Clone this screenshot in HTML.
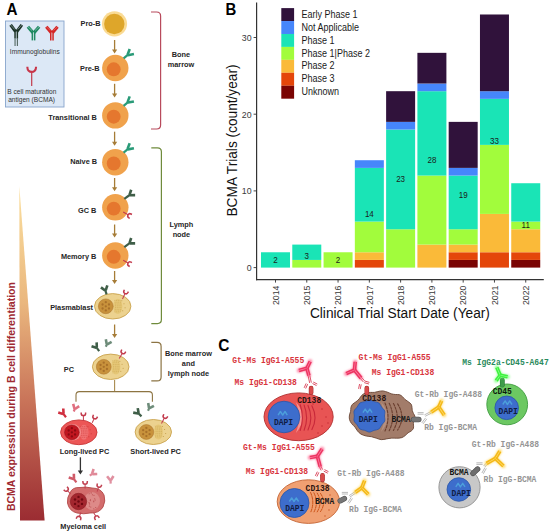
<!DOCTYPE html>
<html><head><meta charset="utf-8"><style>
html,body{margin:0;padding:0;background:#fff;}
svg{display:block;}
</style></head><body>
<svg width="550" height="532" viewBox="0 0 550 532">
<rect width="550" height="532" fill="#fff"/>
<rect x="261.00" y="252.26" width="29.0" height="15.34" fill="#1AE4B6"/>
<text x="275.50" y="262.83" textLength="4.45" lengthAdjust="spacingAndGlyphs" style="font-family:'Liberation Sans',sans-serif;font-size:8.96px;font-weight:normal" fill="#1a1a1a" text-anchor="middle" >2</text>
<line x1="275.50" y1="279.6" x2="275.50" y2="282.6" stroke="#333" stroke-width="0.9"/>
<text transform="translate(278.70,305) rotate(-90)" textLength="19.4" lengthAdjust="spacingAndGlyphs" style="font-family:'Liberation Sans',sans-serif;font-size:9.6px" fill="#3a3a3a">2014</text>
<rect x="292.28" y="259.93" width="29.0" height="7.67" fill="#A2FC3C"/>
<rect x="292.28" y="244.59" width="29.0" height="15.34" fill="#1AE4B6"/>
<text x="306.78" y="259.00" textLength="4.45" lengthAdjust="spacingAndGlyphs" style="font-family:'Liberation Sans',sans-serif;font-size:8.96px;font-weight:normal" fill="#1a1a1a" text-anchor="middle" >3</text>
<line x1="306.78" y1="279.6" x2="306.78" y2="282.6" stroke="#333" stroke-width="0.9"/>
<text transform="translate(309.98,305) rotate(-90)" textLength="19.4" lengthAdjust="spacingAndGlyphs" style="font-family:'Liberation Sans',sans-serif;font-size:9.6px" fill="#3a3a3a">2015</text>
<rect x="323.56" y="252.26" width="29.0" height="15.34" fill="#A2FC3C"/>
<text x="338.06" y="262.83" textLength="4.45" lengthAdjust="spacingAndGlyphs" style="font-family:'Liberation Sans',sans-serif;font-size:8.96px;font-weight:normal" fill="#1a1a1a" text-anchor="middle" >2</text>
<line x1="338.06" y1="279.6" x2="338.06" y2="282.6" stroke="#333" stroke-width="0.9"/>
<text transform="translate(341.26,305) rotate(-90)" textLength="19.4" lengthAdjust="spacingAndGlyphs" style="font-family:'Liberation Sans',sans-serif;font-size:9.6px" fill="#3a3a3a">2016</text>
<rect x="354.84" y="259.93" width="29.0" height="7.67" fill="#E4460A"/>
<rect x="354.84" y="252.26" width="29.0" height="7.67" fill="#FABA39"/>
<rect x="354.84" y="221.58" width="29.0" height="30.68" fill="#A2FC3C"/>
<rect x="354.84" y="167.89" width="29.0" height="53.69" fill="#1AE4B6"/>
<rect x="354.84" y="160.22" width="29.0" height="7.67" fill="#4686FB"/>
<text x="369.34" y="216.81" textLength="8.90" lengthAdjust="spacingAndGlyphs" style="font-family:'Liberation Sans',sans-serif;font-size:8.96px;font-weight:normal" fill="#1a1a1a" text-anchor="middle" >14</text>
<line x1="369.34" y1="279.6" x2="369.34" y2="282.6" stroke="#333" stroke-width="0.9"/>
<text transform="translate(372.54,305) rotate(-90)" textLength="19.4" lengthAdjust="spacingAndGlyphs" style="font-family:'Liberation Sans',sans-serif;font-size:9.6px" fill="#3a3a3a">2017</text>
<rect x="386.12" y="229.25" width="29.0" height="38.35" fill="#A2FC3C"/>
<rect x="386.12" y="129.54" width="29.0" height="99.71" fill="#1AE4B6"/>
<rect x="386.12" y="121.87" width="29.0" height="7.67" fill="#4686FB"/>
<rect x="386.12" y="91.19" width="29.0" height="30.68" fill="#30123B"/>
<text x="400.62" y="182.30" textLength="8.90" lengthAdjust="spacingAndGlyphs" style="font-family:'Liberation Sans',sans-serif;font-size:8.96px;font-weight:normal" fill="#1a1a1a" text-anchor="middle" >23</text>
<line x1="400.62" y1="279.6" x2="400.62" y2="282.6" stroke="#333" stroke-width="0.9"/>
<text transform="translate(403.82,305) rotate(-90)" textLength="19.4" lengthAdjust="spacingAndGlyphs" style="font-family:'Liberation Sans',sans-serif;font-size:9.6px" fill="#3a3a3a">2018</text>
<rect x="417.40" y="244.59" width="29.0" height="23.01" fill="#FABA39"/>
<rect x="417.40" y="175.56" width="29.0" height="69.03" fill="#A2FC3C"/>
<rect x="417.40" y="91.19" width="29.0" height="84.37" fill="#1AE4B6"/>
<rect x="417.40" y="83.52" width="29.0" height="7.67" fill="#4686FB"/>
<rect x="417.40" y="52.84" width="29.0" height="30.68" fill="#30123B"/>
<text x="431.90" y="163.12" textLength="8.90" lengthAdjust="spacingAndGlyphs" style="font-family:'Liberation Sans',sans-serif;font-size:8.96px;font-weight:normal" fill="#1a1a1a" text-anchor="middle" >28</text>
<line x1="431.90" y1="279.6" x2="431.90" y2="282.6" stroke="#333" stroke-width="0.9"/>
<text transform="translate(435.10,305) rotate(-90)" textLength="19.4" lengthAdjust="spacingAndGlyphs" style="font-family:'Liberation Sans',sans-serif;font-size:9.6px" fill="#3a3a3a">2019</text>
<rect x="448.68" y="259.93" width="29.0" height="7.67" fill="#7A0403"/>
<rect x="448.68" y="252.26" width="29.0" height="7.67" fill="#E4460A"/>
<rect x="448.68" y="244.59" width="29.0" height="7.67" fill="#FABA39"/>
<rect x="448.68" y="229.25" width="29.0" height="15.34" fill="#A2FC3C"/>
<rect x="448.68" y="175.56" width="29.0" height="53.69" fill="#1AE4B6"/>
<rect x="448.68" y="167.89" width="29.0" height="7.67" fill="#4686FB"/>
<rect x="448.68" y="121.87" width="29.0" height="46.02" fill="#30123B"/>
<text x="463.18" y="197.64" textLength="8.90" lengthAdjust="spacingAndGlyphs" style="font-family:'Liberation Sans',sans-serif;font-size:8.96px;font-weight:normal" fill="#1a1a1a" text-anchor="middle" >19</text>
<line x1="463.18" y1="279.6" x2="463.18" y2="282.6" stroke="#333" stroke-width="0.9"/>
<text transform="translate(466.38,305) rotate(-90)" textLength="19.4" lengthAdjust="spacingAndGlyphs" style="font-family:'Liberation Sans',sans-serif;font-size:9.6px" fill="#3a3a3a">2020</text>
<rect x="479.96" y="252.26" width="29.0" height="15.34" fill="#E4460A"/>
<rect x="479.96" y="213.91" width="29.0" height="38.35" fill="#FABA39"/>
<rect x="479.96" y="144.88" width="29.0" height="69.03" fill="#A2FC3C"/>
<rect x="479.96" y="98.86" width="29.0" height="46.02" fill="#1AE4B6"/>
<rect x="479.96" y="91.19" width="29.0" height="7.67" fill="#4686FB"/>
<rect x="479.96" y="14.49" width="29.0" height="76.70" fill="#30123B"/>
<text x="494.46" y="143.95" textLength="8.90" lengthAdjust="spacingAndGlyphs" style="font-family:'Liberation Sans',sans-serif;font-size:8.96px;font-weight:normal" fill="#1a1a1a" text-anchor="middle" >33</text>
<line x1="494.46" y1="279.6" x2="494.46" y2="282.6" stroke="#333" stroke-width="0.9"/>
<text transform="translate(497.66,305) rotate(-90)" textLength="19.4" lengthAdjust="spacingAndGlyphs" style="font-family:'Liberation Sans',sans-serif;font-size:9.6px" fill="#3a3a3a">2021</text>
<rect x="511.24" y="259.93" width="29.0" height="7.67" fill="#7A0403"/>
<rect x="511.24" y="252.26" width="29.0" height="7.67" fill="#E4460A"/>
<rect x="511.24" y="229.25" width="29.0" height="23.01" fill="#FABA39"/>
<rect x="511.24" y="221.58" width="29.0" height="7.67" fill="#A2FC3C"/>
<rect x="511.24" y="183.23" width="29.0" height="38.35" fill="#1AE4B6"/>
<text x="525.74" y="228.32" textLength="8.30" lengthAdjust="spacingAndGlyphs" style="font-family:'Liberation Sans',sans-serif;font-size:8.96px;font-weight:normal" fill="#1a1a1a" text-anchor="middle" >11</text>
<line x1="525.74" y1="279.6" x2="525.74" y2="282.6" stroke="#333" stroke-width="0.9"/>
<text transform="translate(528.94,305) rotate(-90)" textLength="19.4" lengthAdjust="spacingAndGlyphs" style="font-family:'Liberation Sans',sans-serif;font-size:9.6px" fill="#3a3a3a">2022</text>
<line x1="256.6" y1="2.5" x2="256.6" y2="280.2" stroke="#333" stroke-width="1.2"/>
<line x1="256" y1="279.6" x2="543.8" y2="279.6" stroke="#333" stroke-width="1.2"/>
<line x1="253.6" y1="267.60" x2="256.5" y2="267.60" stroke="#333" stroke-width="0.9"/>
<text x="251.6" y="270.90" textLength="4.89" lengthAdjust="spacingAndGlyphs" style="font-family:'Liberation Sans',sans-serif;font-size:9.86px;font-weight:normal" fill="#3a3a3a" text-anchor="end" >0</text>
<line x1="253.6" y1="190.90" x2="256.5" y2="190.90" stroke="#333" stroke-width="0.9"/>
<text x="251.6" y="194.20" textLength="9.79" lengthAdjust="spacingAndGlyphs" style="font-family:'Liberation Sans',sans-serif;font-size:9.86px;font-weight:normal" fill="#3a3a3a" text-anchor="end" >10</text>
<line x1="253.6" y1="114.20" x2="256.5" y2="114.20" stroke="#333" stroke-width="0.9"/>
<text x="251.6" y="117.50" textLength="9.79" lengthAdjust="spacingAndGlyphs" style="font-family:'Liberation Sans',sans-serif;font-size:9.86px;font-weight:normal" fill="#3a3a3a" text-anchor="end" >20</text>
<line x1="253.6" y1="37.50" x2="256.5" y2="37.50" stroke="#333" stroke-width="0.9"/>
<text x="251.6" y="40.80" textLength="9.79" lengthAdjust="spacingAndGlyphs" style="font-family:'Liberation Sans',sans-serif;font-size:9.86px;font-weight:normal" fill="#3a3a3a" text-anchor="end" >30</text>
<text x="399.9" y="318" textLength="180.00" lengthAdjust="spacingAndGlyphs" style="font-family:'Liberation Sans',sans-serif;font-size:15.07px;font-weight:normal" fill="#111" text-anchor="middle" >Clinical Trial Start Date (Year)</text>
<text transform="translate(236.5,140.5) rotate(-90)" text-anchor="middle" textLength="152" lengthAdjust="spacingAndGlyphs" style="font-family:'Liberation Sans',sans-serif;font-size:15px" fill="#111">BCMA Trials (count/year)</text>
<rect x="281.3" y="8.10" width="12.8" height="12.94" fill="#30123B"/>
<text x="301.6" y="17.70" textLength="56.03" lengthAdjust="spacingAndGlyphs" style="font-family:'Liberation Sans',sans-serif;font-size:10.17px;font-weight:normal" fill="#1a1a1a" text-anchor="start" >Early Phase 1</text>
<rect x="281.3" y="21.04" width="12.8" height="12.94" fill="#4686FB"/>
<text x="301.6" y="30.64" textLength="57.54" lengthAdjust="spacingAndGlyphs" style="font-family:'Liberation Sans',sans-serif;font-size:10.17px;font-weight:normal" fill="#1a1a1a" text-anchor="start" >Not Applicable</text>
<rect x="281.3" y="33.98" width="12.8" height="12.94" fill="#1AE4B6"/>
<text x="301.6" y="43.58" textLength="33.02" lengthAdjust="spacingAndGlyphs" style="font-family:'Liberation Sans',sans-serif;font-size:10.17px;font-weight:normal" fill="#1a1a1a" text-anchor="start" >Phase 1</text>
<rect x="281.3" y="46.92" width="12.8" height="12.94" fill="#A2FC3C"/>
<text x="301.6" y="56.52" textLength="68.38" lengthAdjust="spacingAndGlyphs" style="font-family:'Liberation Sans',sans-serif;font-size:10.17px;font-weight:normal" fill="#1a1a1a" text-anchor="start" >Phase 1|Phase 2</text>
<rect x="281.3" y="59.86" width="12.8" height="12.94" fill="#FABA39"/>
<text x="301.6" y="69.46" textLength="33.02" lengthAdjust="spacingAndGlyphs" style="font-family:'Liberation Sans',sans-serif;font-size:10.17px;font-weight:normal" fill="#1a1a1a" text-anchor="start" >Phase 2</text>
<rect x="281.3" y="72.80" width="12.8" height="12.94" fill="#E4460A"/>
<text x="301.6" y="82.40" textLength="33.02" lengthAdjust="spacingAndGlyphs" style="font-family:'Liberation Sans',sans-serif;font-size:10.17px;font-weight:normal" fill="#1a1a1a" text-anchor="start" >Phase 3</text>
<rect x="281.3" y="85.74" width="12.8" height="12.94" fill="#7A0403"/>
<text x="301.6" y="95.34" textLength="37.52" lengthAdjust="spacingAndGlyphs" style="font-family:'Liberation Sans',sans-serif;font-size:10.17px;font-weight:normal" fill="#1a1a1a" text-anchor="start" >Unknown</text>
<text x="225.4" y="15.0" textLength="10.80" lengthAdjust="spacingAndGlyphs" style="font-family:'Liberation Sans',sans-serif;font-size:16.10px;font-weight:bold" fill="#000" text-anchor="start" >B</text>
<text x="6.5" y="14.8" textLength="11.00" lengthAdjust="spacingAndGlyphs" style="font-family:'Liberation Sans',sans-serif;font-size:16.10px;font-weight:bold" fill="#000" text-anchor="start" >A</text>
<rect x="5.5" y="21" width="58.5" height="86" fill="#dce8f6" stroke="#87a5cc" stroke-width="0.9"/>
<line x1="15.60" y1="31.60" x2="10.60" y2="24.90" stroke="#1c3326" stroke-width="3.2"/><line x1="16.80" y1="31.60" x2="21.80" y2="24.90" stroke="#1c3326" stroke-width="3.2"/><line x1="15.05" y1="29.80" x2="15.05" y2="38.60" stroke="#1c3326" stroke-width="1.5"/><line x1="17.35" y1="29.80" x2="17.35" y2="38.60" stroke="#1c3326" stroke-width="1.5"/><line x1="14.60" y1="29.40" x2="10.60" y2="24.90" stroke="#dce8f6" stroke-width="0.55" opacity="0.8"/><line x1="17.80" y1="29.40" x2="21.80" y2="24.90" stroke="#dce8f6" stroke-width="0.55" opacity="0.8"/><line x1="15.05" y1="38.60" x2="15.05" y2="46.00" stroke="#1c3326" stroke-width="0.8"/><line x1="17.35" y1="38.60" x2="17.35" y2="46.00" stroke="#1c3326" stroke-width="0.8"/>
<line x1="32.90" y1="32.60" x2="27.90" y2="26.80" stroke="#1f8a62" stroke-width="3.2"/><line x1="34.10" y1="32.60" x2="39.10" y2="26.80" stroke="#1f8a62" stroke-width="3.2"/><line x1="32.35" y1="30.80" x2="32.35" y2="40.40" stroke="#1f8a62" stroke-width="1.5"/><line x1="34.65" y1="30.80" x2="34.65" y2="40.40" stroke="#1f8a62" stroke-width="1.5"/><line x1="31.90" y1="30.40" x2="27.90" y2="26.80" stroke="#dce8f6" stroke-width="0.55" opacity="0.8"/><line x1="35.10" y1="30.40" x2="39.10" y2="26.80" stroke="#dce8f6" stroke-width="0.55" opacity="0.8"/>
<line x1="51.30" y1="32.60" x2="46.30" y2="26.80" stroke="#d42626" stroke-width="3.2"/><line x1="52.50" y1="32.60" x2="57.50" y2="26.80" stroke="#d42626" stroke-width="3.2"/><line x1="50.75" y1="30.80" x2="50.75" y2="40.40" stroke="#d42626" stroke-width="1.5"/><line x1="53.05" y1="30.80" x2="53.05" y2="40.40" stroke="#d42626" stroke-width="1.5"/><line x1="50.30" y1="30.40" x2="46.30" y2="26.80" stroke="#f0a0a0" stroke-width="0.55" opacity="0.8"/><line x1="53.50" y1="30.40" x2="57.50" y2="26.80" stroke="#f0a0a0" stroke-width="0.55" opacity="0.8"/>
<text x="34.8" y="54.2" style="font-family:'Liberation Sans',sans-serif;font-size:6.6px;font-weight:normal" fill="#333" text-anchor="middle" >Immunoglobulins</text>
<path d="M27.4,66.8 L27.4,67.6 A4.3,4.3 0 0 0 36.0,67.6 L36.0,66.8" fill="none" stroke="#c8364a" stroke-width="2.1"/>
<line x1="31.7" y1="72.5" x2="31.7" y2="86" stroke="#c23a4c" stroke-width="1.2"/>
<text x="31.8" y="93.6" style="font-family:'Liberation Sans',sans-serif;font-size:6.6px;font-weight:normal" fill="#333" text-anchor="middle" >B cell maturation</text>
<text x="31.6" y="102.2" style="font-family:'Liberation Sans',sans-serif;font-size:6.6px;font-weight:normal" fill="#333" text-anchor="middle" >antigen (BCMA)</text>
<circle cx="114.5" cy="23.8" r="12.6" fill="#fadb94"/>
<circle cx="114.3" cy="24" r="10.2" fill="#dea62a"/>
<text x="100.5" y="25.8" style="font-family:'Liberation Sans',sans-serif;font-size:7.35px;font-weight:bold" fill="#262626" text-anchor="end" >Pro-B</text>
<line x1="114.6" y1="40" x2="114.6" y2="50.5" stroke="#a67c37" stroke-width="1.3"/>
<path d="M112.0,49.5 L117.19999999999999,49.5 L114.6,53.5 Z" fill="#a67c37"/>
<line x1="114.6" y1="83.8" x2="114.6" y2="94.6" stroke="#a67c37" stroke-width="1.3"/>
<path d="M112.0,93.6 L117.19999999999999,93.6 L114.6,97.6 Z" fill="#a67c37"/>
<line x1="114.6" y1="131.7" x2="114.6" y2="142.8" stroke="#a67c37" stroke-width="1.3"/>
<path d="M112.0,141.8 L117.19999999999999,141.8 L114.6,145.8 Z" fill="#a67c37"/>
<line x1="114.6" y1="178" x2="114.6" y2="188.2" stroke="#a67c37" stroke-width="1.3"/>
<path d="M112.0,187.2 L117.19999999999999,187.2 L114.6,191.2 Z" fill="#a67c37"/>
<line x1="114.6" y1="224.5" x2="114.6" y2="234.5" stroke="#a67c37" stroke-width="1.3"/>
<path d="M112.0,233.5 L117.19999999999999,233.5 L114.6,237.5 Z" fill="#a67c37"/>
<line x1="114.6" y1="271" x2="114.6" y2="281" stroke="#a67c37" stroke-width="1.3"/>
<path d="M112.0,280 L117.19999999999999,280 L114.6,284 Z" fill="#a67c37"/>
<line x1="114.6" y1="324.5" x2="114.6" y2="335" stroke="#a67c37" stroke-width="1.3"/>
<path d="M112.0,334 L117.19999999999999,334 L114.6,338 Z" fill="#a67c37"/>
<circle cx="115.3" cy="68" r="13.2" fill="#f0a24c"/>
<circle cx="113.7" cy="69.3" r="6.95" fill="#e5772e"/>
<g transform="translate(123.6,58.4) rotate(50) scale(1.0)"><line x1="0" y1="0" x2="0" y2="-6.2" stroke="#2a9b78" stroke-width="2.2"/><line x1="-0.3" y1="-5.4" x2="-3.29" y2="-10.73" stroke="#2a9b78" stroke-width="2.6"/><line x1="0.3" y1="-5.4" x2="3.29" y2="-10.73" stroke="#2a9b78" stroke-width="2.6"/></g>
<text x="99.6" y="70.6" style="font-family:'Liberation Sans',sans-serif;font-size:7.35px;font-weight:bold" fill="#262626" text-anchor="end" >Pre-B</text>
<circle cx="115.3" cy="115.4" r="13.2" fill="#f0a24c"/>
<circle cx="113.7" cy="116.7" r="6.95" fill="#e5772e"/>
<g transform="translate(123.6,105.80000000000001) rotate(50) scale(1.0)"><line x1="0" y1="0" x2="0" y2="-6.2" stroke="#2a9b78" stroke-width="2.2"/><line x1="-0.3" y1="-5.4" x2="-3.29" y2="-10.73" stroke="#2a9b78" stroke-width="2.6"/><line x1="0.3" y1="-5.4" x2="3.29" y2="-10.73" stroke="#2a9b78" stroke-width="2.6"/></g>
<text x="96.9" y="119.7" style="font-family:'Liberation Sans',sans-serif;font-size:7.35px;font-weight:bold" fill="#262626" text-anchor="end" >Transitional B</text>
<circle cx="115.3" cy="162.2" r="13.2" fill="#f0a24c"/>
<circle cx="113.7" cy="163.5" r="6.95" fill="#e5772e"/>
<g transform="translate(123.6,152.6) rotate(50) scale(1.0)"><line x1="0" y1="0" x2="0" y2="-6.2" stroke="#2a9b78" stroke-width="2.2"/><line x1="-0.3" y1="-5.4" x2="-3.29" y2="-10.73" stroke="#2a9b78" stroke-width="2.6"/><line x1="0.3" y1="-5.4" x2="3.29" y2="-10.73" stroke="#2a9b78" stroke-width="2.6"/></g>
<text x="97.1" y="164.2" style="font-family:'Liberation Sans',sans-serif;font-size:7.35px;font-weight:bold" fill="#262626" text-anchor="end" >Naive B</text>
<circle cx="115.3" cy="207.3" r="13.2" fill="#f0a24c"/>
<circle cx="113.7" cy="208.60000000000002" r="6.95" fill="#e5772e"/>
<g transform="translate(124.3,198.9) rotate(54) scale(1.0)"><line x1="0" y1="0" x2="0" y2="-7.5" stroke="#3f5e48" stroke-width="2.2"/><line x1="-0.3" y1="-6.7" x2="-3.33" y2="-10.95" stroke="#3f5e48" stroke-width="2.6"/><line x1="0.3" y1="-6.7" x2="3.33" y2="-10.95" stroke="#3f5e48" stroke-width="2.6"/></g>
<g transform="translate(123.2,212.0) rotate(120) scale(1.0)"><line x1="0" y1="0" x2="0" y2="-5.6" stroke="#c23a4c" stroke-width="1.0"/><path d="M-2.2,-8.8 L-2.2,-7.8 A2.2,2.2 0 0 0 2.2,-7.8 L2.2,-8.8" fill="none" stroke="#c23a4c" stroke-width="1.5"/></g>
<text x="96.4" y="212.5" style="font-family:'Liberation Sans',sans-serif;font-size:7.35px;font-weight:bold" fill="#262626" text-anchor="end" >GC B</text>
<circle cx="115.3" cy="255.5" r="13.2" fill="#f0a24c"/>
<circle cx="113.7" cy="256.8" r="6.95" fill="#e5772e"/>
<g transform="translate(124.3,247.1) rotate(54) scale(1.0)"><line x1="0" y1="0" x2="0" y2="-7.5" stroke="#3f5e48" stroke-width="2.2"/><line x1="-0.3" y1="-6.7" x2="-3.33" y2="-10.95" stroke="#3f5e48" stroke-width="2.6"/><line x1="0.3" y1="-6.7" x2="3.33" y2="-10.95" stroke="#3f5e48" stroke-width="2.6"/></g>
<g transform="translate(123.2,260.2) rotate(120) scale(1.0)"><line x1="0" y1="0" x2="0" y2="-5.6" stroke="#c23a4c" stroke-width="1.0"/><path d="M-2.2,-8.8 L-2.2,-7.8 A2.2,2.2 0 0 0 2.2,-7.8 L2.2,-8.8" fill="none" stroke="#c23a4c" stroke-width="1.5"/></g>
<text x="96.4" y="259.3" style="font-family:'Liberation Sans',sans-serif;font-size:7.35px;font-weight:bold" fill="#262626" text-anchor="end" >Memory B</text>
<ellipse cx="112.7" cy="306.3" rx="18.2" ry="12.7" fill="#ecd28f" stroke="#c9a34e" stroke-width="0.9"/>
<ellipse cx="117.80" cy="306.3" rx="4.55" ry="7.62" fill="#e6c878"/>
<path d="M114.60,299.95 Q116.40,306.30 114.60,312.65" fill="none" stroke="#c39c48" stroke-width="0.6" stroke-dasharray="1 0.8" opacity="0.9"/><path d="M116.40,299.95 Q118.20,306.30 116.40,312.65" fill="none" stroke="#c39c48" stroke-width="0.6" stroke-dasharray="1 0.8" opacity="0.9"/><path d="M118.20,299.95 Q120.00,306.30 118.20,312.65" fill="none" stroke="#c39c48" stroke-width="0.6" stroke-dasharray="1 0.8" opacity="0.9"/><path d="M120.00,299.95 Q121.80,306.30 120.00,312.65" fill="none" stroke="#c39c48" stroke-width="0.6" stroke-dasharray="1 0.8" opacity="0.9"/><circle cx="123.98" cy="303.80" r="0.55" fill="#c39c48"/><circle cx="125.08" cy="307.80" r="0.55" fill="#c39c48"/><circle cx="122.71" cy="310.80" r="0.55" fill="#c39c48"/><circle cx="121.80" cy="300.80" r="0.55" fill="#c39c48"/>
<circle cx="105.78" cy="306.3" r="7.4" fill="#c8923c" stroke="#a8702a" stroke-width="0.5"/>
<circle cx="105.78" cy="306.30" r="1.15" fill="#a8702a"/>
<circle cx="102.58" cy="304.50" r="1.15" fill="#a8702a"/>
<circle cx="108.98" cy="304.50" r="1.15" fill="#a8702a"/>
<circle cx="102.58" cy="308.50" r="1.15" fill="#a8702a"/>
<circle cx="108.98" cy="308.50" r="1.15" fill="#a8702a"/>
<circle cx="105.78" cy="302.20" r="1.15" fill="#a8702a"/>
<circle cx="105.78" cy="310.40" r="1.15" fill="#a8702a"/>
<g transform="translate(106.6,294.4) rotate(-17) scale(1.0)"><line x1="0" y1="0" x2="0" y2="-4.9" stroke="#3f5e48" stroke-width="2.2"/><line x1="-0.3" y1="-4.1000000000000005" x2="-3.33" y2="-8.35" stroke="#3f5e48" stroke-width="2.6"/><line x1="0.3" y1="-4.1000000000000005" x2="3.33" y2="-8.35" stroke="#3f5e48" stroke-width="2.6"/></g>
<g transform="translate(122.5,299) rotate(25) scale(1.0)"><line x1="0" y1="0" x2="0" y2="-6" stroke="#c23a4c" stroke-width="1.0"/><path d="M-2.2,-9.2 L-2.2,-8.2 A2.2,2.2 0 0 0 2.2,-8.2 L2.2,-9.2" fill="none" stroke="#c23a4c" stroke-width="1.5"/></g>
<text x="93" y="309.8" style="font-family:'Liberation Sans',sans-serif;font-size:7.35px;font-weight:bold" fill="#262626" text-anchor="end" >Plasmablast</text>
<ellipse cx="110.7" cy="366.8" rx="18.3" ry="12.7" fill="#ecd28f" stroke="#c9a34e" stroke-width="0.9"/>
<ellipse cx="115.82" cy="366.8" rx="4.58" ry="7.62" fill="#e6c878"/>
<path d="M112.62,360.45 Q114.42,366.80 112.62,373.15" fill="none" stroke="#c39c48" stroke-width="0.6" stroke-dasharray="1 0.8" opacity="0.9"/><path d="M114.42,360.45 Q116.22,366.80 114.42,373.15" fill="none" stroke="#c39c48" stroke-width="0.6" stroke-dasharray="1 0.8" opacity="0.9"/><path d="M116.22,360.45 Q118.02,366.80 116.22,373.15" fill="none" stroke="#c39c48" stroke-width="0.6" stroke-dasharray="1 0.8" opacity="0.9"/><path d="M118.02,360.45 Q119.82,366.80 118.02,373.15" fill="none" stroke="#c39c48" stroke-width="0.6" stroke-dasharray="1 0.8" opacity="0.9"/><circle cx="122.05" cy="364.30" r="0.55" fill="#c39c48"/><circle cx="123.14" cy="368.30" r="0.55" fill="#c39c48"/><circle cx="120.77" cy="371.30" r="0.55" fill="#c39c48"/><circle cx="119.85" cy="361.30" r="0.55" fill="#c39c48"/>
<circle cx="103.75" cy="366.8" r="7.4" fill="#c8923c" stroke="#a8702a" stroke-width="0.5"/>
<circle cx="103.75" cy="366.80" r="1.15" fill="#a8702a"/>
<circle cx="100.55" cy="365.00" r="1.15" fill="#a8702a"/>
<circle cx="106.95" cy="365.00" r="1.15" fill="#a8702a"/>
<circle cx="100.55" cy="369.00" r="1.15" fill="#a8702a"/>
<circle cx="106.95" cy="369.00" r="1.15" fill="#a8702a"/>
<circle cx="103.75" cy="362.70" r="1.15" fill="#a8702a"/>
<circle cx="103.75" cy="370.90" r="1.15" fill="#a8702a"/>
<g transform="translate(99.2,351.1) rotate(-37) scale(1.0)"><line x1="0" y1="0" x2="0" y2="-5.2" stroke="#3f5e48" stroke-width="2.2"/><line x1="-0.3" y1="-4.4" x2="-3.20" y2="-8.51" stroke="#3f5e48" stroke-width="2.6"/><line x1="0.3" y1="-4.4" x2="3.20" y2="-8.51" stroke="#3f5e48" stroke-width="2.6"/></g>
<g transform="translate(105.8,346.8) rotate(25) scale(1.0)"><line x1="0" y1="0" x2="0" y2="-3.6" stroke="#6e8c7a" stroke-width="2.2"/><line x1="-0.3" y1="-2.8" x2="-3.20" y2="-6.91" stroke="#6e8c7a" stroke-width="2.6"/><line x1="0.3" y1="-2.8" x2="3.20" y2="-6.91" stroke="#6e8c7a" stroke-width="2.6"/></g>
<g transform="translate(119.2,358.6) rotate(30) scale(1.0)"><line x1="0" y1="0" x2="0" y2="-6" stroke="#c23a4c" stroke-width="1.0"/><path d="M-2.2,-9.2 L-2.2,-8.2 A2.2,2.2 0 0 0 2.2,-8.2 L2.2,-9.2" fill="none" stroke="#c23a4c" stroke-width="1.5"/></g>
<text x="68.9" y="371.6" style="font-family:'Liberation Sans',sans-serif;font-size:7.35px;font-weight:bold" fill="#262626" text-anchor="middle" >PC</text>
<path d="M114.6,380 L114.6,391.6" stroke="#a88a4e" stroke-width="1.1" fill="none"/>
<path d="M76,401.8 L76,395 Q76,391.6 79.4,391.6 L149,391.6 Q152.4,391.6 152.4,395 L152.4,401.8" stroke="#8d7442" stroke-width="1.1" fill="none"/>
<ellipse cx="78.8" cy="432.3" rx="18.2" ry="12.4" fill="#ec5656" stroke="#c83838" stroke-width="0.9"/>
<ellipse cx="83.90" cy="432.3" rx="4.55" ry="7.44" fill="#f27272"/>
<path d="M80.70,426.10 Q82.50,432.30 80.70,438.50" fill="none" stroke="#c83838" stroke-width="0.6" stroke-dasharray="1 0.8" opacity="0.9"/><path d="M82.50,426.10 Q84.30,432.30 82.50,438.50" fill="none" stroke="#c83838" stroke-width="0.6" stroke-dasharray="1 0.8" opacity="0.9"/><path d="M84.30,426.10 Q86.10,432.30 84.30,438.50" fill="none" stroke="#c83838" stroke-width="0.6" stroke-dasharray="1 0.8" opacity="0.9"/><path d="M86.10,426.10 Q87.90,432.30 86.10,438.50" fill="none" stroke="#c83838" stroke-width="0.6" stroke-dasharray="1 0.8" opacity="0.9"/><circle cx="90.08" cy="429.80" r="0.55" fill="#c83838"/><circle cx="91.18" cy="433.80" r="0.55" fill="#c83838"/><circle cx="88.81" cy="436.80" r="0.55" fill="#c83838"/><circle cx="87.90" cy="426.80" r="0.55" fill="#c83838"/>
<circle cx="72.68" cy="432.3" r="8.3" fill="#f48a8a"/>
<circle cx="71.88" cy="432.3" r="7.4" fill="#c0161f" stroke="#8c0a12" stroke-width="0.5"/>
<circle cx="71.88" cy="432.30" r="1.15" fill="#8c0a12"/>
<circle cx="68.68" cy="430.50" r="1.15" fill="#8c0a12"/>
<circle cx="75.08" cy="430.50" r="1.15" fill="#8c0a12"/>
<circle cx="68.68" cy="434.50" r="1.15" fill="#8c0a12"/>
<circle cx="75.08" cy="434.50" r="1.15" fill="#8c0a12"/>
<circle cx="71.88" cy="428.20" r="1.15" fill="#8c0a12"/>
<circle cx="71.88" cy="436.40" r="1.15" fill="#8c0a12"/>
<g transform="translate(66,417.2) rotate(-38) scale(1.0)"><line x1="0" y1="0" x2="0" y2="-5.2" stroke="#d03040" stroke-width="2.2"/><line x1="-0.3" y1="-4.4" x2="-3.20" y2="-8.51" stroke="#d03040" stroke-width="2.6"/><line x1="0.3" y1="-4.4" x2="3.20" y2="-8.51" stroke="#d03040" stroke-width="2.6"/></g>
<g transform="translate(73.8,411.5) rotate(20) scale(1.0)"><line x1="0" y1="0" x2="0" y2="-3.6" stroke="#e07080" stroke-width="2.2"/><line x1="-0.3" y1="-2.8" x2="-3.20" y2="-6.91" stroke="#e07080" stroke-width="2.6"/><line x1="0.3" y1="-2.8" x2="3.20" y2="-6.91" stroke="#e07080" stroke-width="2.6"/></g>
<g transform="translate(83.4,420.6) rotate(0) scale(1.0)"><line x1="0" y1="0" x2="0" y2="-5" stroke="#c23a4c" stroke-width="1.0"/><path d="M-2.2,-8.2 L-2.2,-7.2 A2.2,2.2 0 0 0 2.2,-7.2 L2.2,-8.2" fill="none" stroke="#c23a4c" stroke-width="1.5"/></g>
<g transform="translate(92.2,422.8) rotate(25) scale(1.0)"><line x1="0" y1="0" x2="0" y2="-4.6" stroke="#c23a4c" stroke-width="1.0"/><path d="M-2.2,-7.8 L-2.2,-6.8 A2.2,2.2 0 0 0 2.2,-6.8 L2.2,-7.8" fill="none" stroke="#c23a4c" stroke-width="1.5"/></g>
<text x="84.5" y="453.6" style="font-family:'Liberation Sans',sans-serif;font-size:7.35px;font-weight:bold" fill="#262626" text-anchor="middle" >Long-lived PC</text>
<ellipse cx="153.3" cy="432" rx="18.2" ry="12.5" fill="#ecd28f" stroke="#c9a34e" stroke-width="0.9"/>
<ellipse cx="158.40" cy="432" rx="4.55" ry="7.50" fill="#e6c878"/>
<path d="M155.20,425.75 Q157.00,432.00 155.20,438.25" fill="none" stroke="#c39c48" stroke-width="0.6" stroke-dasharray="1 0.8" opacity="0.9"/><path d="M157.00,425.75 Q158.80,432.00 157.00,438.25" fill="none" stroke="#c39c48" stroke-width="0.6" stroke-dasharray="1 0.8" opacity="0.9"/><path d="M158.80,425.75 Q160.60,432.00 158.80,438.25" fill="none" stroke="#c39c48" stroke-width="0.6" stroke-dasharray="1 0.8" opacity="0.9"/><path d="M160.60,425.75 Q162.40,432.00 160.60,438.25" fill="none" stroke="#c39c48" stroke-width="0.6" stroke-dasharray="1 0.8" opacity="0.9"/><circle cx="164.58" cy="429.50" r="0.55" fill="#c39c48"/><circle cx="165.68" cy="433.50" r="0.55" fill="#c39c48"/><circle cx="163.31" cy="436.50" r="0.55" fill="#c39c48"/><circle cx="162.40" cy="426.50" r="0.55" fill="#c39c48"/>
<circle cx="146.38" cy="432" r="7.4" fill="#c8923c" stroke="#a8702a" stroke-width="0.5"/>
<circle cx="146.38" cy="432.00" r="1.15" fill="#a8702a"/>
<circle cx="143.18" cy="430.20" r="1.15" fill="#a8702a"/>
<circle cx="149.58" cy="430.20" r="1.15" fill="#a8702a"/>
<circle cx="143.18" cy="434.20" r="1.15" fill="#a8702a"/>
<circle cx="149.58" cy="434.20" r="1.15" fill="#a8702a"/>
<circle cx="146.38" cy="427.90" r="1.15" fill="#a8702a"/>
<circle cx="146.38" cy="436.10" r="1.15" fill="#a8702a"/>
<g transform="translate(141.5,416.4) rotate(-45) scale(1.0)"><line x1="0" y1="0" x2="0" y2="-5.2" stroke="#3f5e48" stroke-width="2.2"/><line x1="-0.3" y1="-4.4" x2="-3.20" y2="-8.51" stroke="#3f5e48" stroke-width="2.6"/><line x1="0.3" y1="-4.4" x2="3.20" y2="-8.51" stroke="#3f5e48" stroke-width="2.6"/></g>
<g transform="translate(148,410.7) rotate(26) scale(1.0)"><line x1="0" y1="0" x2="0" y2="-3.7" stroke="#6e8c7a" stroke-width="2.2"/><line x1="-0.3" y1="-2.9000000000000004" x2="-3.20" y2="-7.01" stroke="#6e8c7a" stroke-width="2.6"/><line x1="0.3" y1="-2.9000000000000004" x2="3.20" y2="-7.01" stroke="#6e8c7a" stroke-width="2.6"/></g>
<g transform="translate(161.5,423.4) rotate(28) scale(1.0)"><line x1="0" y1="0" x2="0" y2="-6" stroke="#c23a4c" stroke-width="1.0"/><path d="M-2.2,-9.2 L-2.2,-8.2 A2.2,2.2 0 0 0 2.2,-8.2 L2.2,-9.2" fill="none" stroke="#c23a4c" stroke-width="1.5"/></g>
<text x="155.6" y="453.6" style="font-family:'Liberation Sans',sans-serif;font-size:7.35px;font-weight:bold" fill="#262626" text-anchor="middle" >Short-lived PC</text>
<line x1="80.4" y1="457.3" x2="80.4" y2="471.5" stroke="#333" stroke-width="1.3"/>
<path d="M77.80000000000001,470.5 L83.0,470.5 L80.4,474.5 Z" fill="#333"/>
<path d="M70,493 Q72,487 80,487.5 Q86,486.5 92,488 Q101,488 104,495 Q106,501 103,507 Q99,513.5 90,513 Q84,514.5 77,513 Q69,511 67.5,503 Q67,497 70,493 Z" fill="#d36c6c" stroke="#b24848" stroke-width="0.9"/>
<ellipse cx="92" cy="501" rx="8" ry="9" fill="#dd8a88"/>
<circle cx="93.80" cy="501.00" r="0.55" fill="#b84a4c"/>
<circle cx="89.61" cy="503.92" r="0.55" fill="#b84a4c"/>
<circle cx="92.41" cy="494.78" r="0.55" fill="#b84a4c"/>
<circle cx="95.73" cy="507.47" r="0.55" fill="#b84a4c"/>
<circle cx="90.23" cy="500.58" r="0.55" fill="#b84a4c"/>
<circle cx="94.73" cy="498.68" r="0.55" fill="#b84a4c"/>
<circle cx="90.79" cy="507.03" r="0.55" fill="#b84a4c"/>
<circle cx="89.17" cy="493.76" r="0.55" fill="#b84a4c"/>
<circle cx="93.69" cy="501.82" r="0.55" fill="#b84a4c"/>
<circle cx="89.01" cy="502.65" r="0.55" fill="#b84a4c"/>
<circle cx="93.98" cy="495.34" r="0.55" fill="#b84a4c"/>
<circle cx="93.84" cy="508.78" r="0.55" fill="#b84a4c"/>
<circle cx="90.44" cy="499.80" r="0.55" fill="#b84a4c"/>
<circle cx="95.16" cy="500.06" r="0.55" fill="#b84a4c"/>
<circle cx="89.32" cy="506.11" r="0.55" fill="#b84a4c"/>
<circle cx="91.20" cy="492.91" r="0.55" fill="#b84a4c"/>
<circle cx="78.5" cy="501.5" r="8.2" fill="#a3262e" stroke="#8a1a22" stroke-width="0.6"/>
<circle cx="78.50" cy="501.50" r="1.2" fill="#6e0a12"/>
<circle cx="75.00" cy="499.50" r="1.2" fill="#6e0a12"/>
<circle cx="82.00" cy="499.50" r="1.2" fill="#6e0a12"/>
<circle cx="75.00" cy="503.90" r="1.2" fill="#6e0a12"/>
<circle cx="82.00" cy="503.90" r="1.2" fill="#6e0a12"/>
<circle cx="78.50" cy="496.90" r="1.2" fill="#6e0a12"/>
<circle cx="78.50" cy="506.10" r="1.2" fill="#6e0a12"/>
<g transform="translate(70.6,494) rotate(-42) scale(1.0)"><line x1="0" y1="0" x2="0" y2="-4.6" stroke="#c04050" stroke-width="1.0"/><path d="M-2.2,-7.8 L-2.2,-6.8 A2.2,2.2 0 0 0 2.2,-6.8 L2.2,-7.8" fill="none" stroke="#c04050" stroke-width="1.5"/></g>
<g transform="translate(85.1,488.6) rotate(0) scale(1.0)"><line x1="0" y1="0" x2="0" y2="-4.4" stroke="#c04050" stroke-width="1.0"/><path d="M-2.2,-7.6000000000000005 L-2.2,-6.6000000000000005 A2.2,2.2 0 0 0 2.2,-6.6000000000000005 L2.2,-7.6000000000000005" fill="none" stroke="#c04050" stroke-width="1.5"/></g>
<g transform="translate(97.1,491.7) rotate(18) scale(1.0)"><line x1="0" y1="0" x2="0" y2="-4.8" stroke="#c04050" stroke-width="1.0"/><path d="M-2.2,-8.0 L-2.2,-7.0 A2.2,2.2 0 0 0 2.2,-7.0 L2.2,-8.0" fill="none" stroke="#c04050" stroke-width="1.5"/></g>
<g transform="translate(80.9,512.4) rotate(200) scale(1.0)"><line x1="0" y1="0" x2="0" y2="-4.4" stroke="#c04050" stroke-width="1.0"/><path d="M-2.2,-7.6000000000000005 L-2.2,-6.6000000000000005 A2.2,2.2 0 0 0 2.2,-6.6000000000000005 L2.2,-7.6000000000000005" fill="none" stroke="#c04050" stroke-width="1.5"/></g>
<g transform="translate(93.6,512.4) rotate(150) scale(1.0)"><line x1="0" y1="0" x2="0" y2="-4.4" stroke="#c04050" stroke-width="1.0"/><path d="M-2.2,-7.6000000000000005 L-2.2,-6.6000000000000005 A2.2,2.2 0 0 0 2.2,-6.6000000000000005 L2.2,-7.6000000000000005" fill="none" stroke="#c04050" stroke-width="1.5"/></g>
<g transform="translate(76.4,482.4) rotate(-37) scale(1.0)"><line x1="0" y1="0" x2="0" y2="-5.2" stroke="#d05a68" stroke-width="2.2"/><line x1="-0.3" y1="-4.4" x2="-3.20" y2="-8.51" stroke="#d05a68" stroke-width="2.6"/><line x1="0.3" y1="-4.4" x2="3.20" y2="-8.51" stroke="#d05a68" stroke-width="2.6"/></g>
<g transform="translate(89.8,475.6) rotate(54) scale(1.0)"><line x1="0" y1="0" x2="0" y2="-3.8" stroke="#e08a98" stroke-width="2.2"/><line x1="-0.3" y1="-3.0" x2="-3.06" y2="-6.97" stroke="#e08a98" stroke-width="2.6"/><line x1="0.3" y1="-3.0" x2="3.06" y2="-6.97" stroke="#e08a98" stroke-width="2.6"/></g>
<g transform="translate(110.7,483.6) rotate(-3) scale(1.0)"><line x1="0" y1="0" x2="0" y2="-4.2" stroke="#e090a0" stroke-width="2.2"/><line x1="-0.3" y1="-3.4000000000000004" x2="-3.20" y2="-7.51" stroke="#e090a0" stroke-width="2.6"/><line x1="0.3" y1="-3.4000000000000004" x2="3.20" y2="-7.51" stroke="#e090a0" stroke-width="2.6"/></g>
<text x="83.2" y="529.2" style="font-family:'Liberation Sans',sans-serif;font-size:7.35px;font-weight:bold" fill="#262626" text-anchor="middle" >Myeloma cell</text>
<path d="M151,12 L156.6,12 Q160.6,12 160.6,16 L160.6,125 Q160.6,129 156.6,129 L151,129" fill="none" stroke="#b84a5c" stroke-width="1.2"/>
<text x="181" y="57.3" style="font-family:'Liberation Sans',sans-serif;font-size:7.35px;font-weight:bold" fill="#262626" text-anchor="middle" >Bone</text>
<text x="181" y="67.1" style="font-family:'Liberation Sans',sans-serif;font-size:7.35px;font-weight:bold" fill="#262626" text-anchor="middle" >marrow</text>
<path d="M151.3,147.8 L157.4,147.8 Q161.4,147.8 161.4,151.8 L161.4,319.6 Q161.4,323.6 157.4,323.6 L151.3,323.6" fill="none" stroke="#6f8b3c" stroke-width="1.2"/>
<text x="181.4" y="226.6" style="font-family:'Liberation Sans',sans-serif;font-size:7.35px;font-weight:bold" fill="#262626" text-anchor="middle" >Lymph</text>
<text x="181.4" y="237.1" style="font-family:'Liberation Sans',sans-serif;font-size:7.35px;font-weight:bold" fill="#262626" text-anchor="middle" >node</text>
<path d="M151.3,342.4 L157.1,342.4 Q161.1,342.4 161.1,346.4 L161.1,376.9 Q161.1,380.9 157.1,380.9 L151.3,380.9" fill="none" stroke="#8c7444" stroke-width="1.2"/>
<text x="188.4" y="355.9" style="font-family:'Liberation Sans',sans-serif;font-size:7.35px;font-weight:bold" fill="#262626" text-anchor="middle" >Bone marrow</text>
<text x="188.4" y="365.8" style="font-family:'Liberation Sans',sans-serif;font-size:7.35px;font-weight:bold" fill="#262626" text-anchor="middle" >and</text>
<text x="188.4" y="375.9" style="font-family:'Liberation Sans',sans-serif;font-size:7.35px;font-weight:bold" fill="#262626" text-anchor="middle" >lymph node</text>
<defs><linearGradient id="tri" x1="0" y1="0" x2="0" y2="1"><stop offset="0" stop-color="#fbe0a0"/><stop offset="0.35" stop-color="#eab77e"/><stop offset="0.65" stop-color="#c87258"/><stop offset="1" stop-color="#9b2c32"/></linearGradient></defs>
<path d="M19.3,185.8 L20,520.6 L44.6,520.6 Z" fill="url(#tri)"/>
<text transform="translate(15.1,396.6) rotate(-90)" text-anchor="middle" textLength="229" lengthAdjust="spacingAndGlyphs" style="font-family:'Liberation Sans',sans-serif;font-size:10.3px;font-weight:bold" fill="#a02a32">BCMA expression during B cell differentiation</text>
<text x="218.2" y="350.6" textLength="11.20" lengthAdjust="spacingAndGlyphs" style="font-family:'Liberation Sans',sans-serif;font-size:16.38px;font-weight:bold" fill="#000" text-anchor="start" >C</text>
<defs><filter id="glow" x="-50%" y="-50%" width="200%" height="200%"><feGaussianBlur stdDeviation="1.1"/></filter></defs>
<text x="232.2" y="362.6" textLength="72.0" lengthAdjust="spacingAndGlyphs" style="font-family:'Liberation Mono',monospace;font-size:8.6px;font-weight:bold" fill="#d8343c" text-anchor="start">Gt-Ms IgG1-A555</text>
<text x="234.5" y="385.3" textLength="62.4" lengthAdjust="spacingAndGlyphs" style="font-family:'Liberation Mono',monospace;font-size:8.6px;font-weight:bold" fill="#d8343c" text-anchor="start">Ms IgG1-CD138</text>
<ellipse cx="298.6" cy="416.8" rx="34.6" ry="23.9" fill="#e85454" stroke="#b02c2c" stroke-width="0.9"/>
<path d="M296,402 Q309,417.5 296,433 Q302,417.5 296,402 Z" fill="#f89a98" opacity="0.9"/>
<path d="M300.20,404.80 Q304.60,417.65 300.20,430.50" fill="none" stroke="#c8283a" stroke-width="1.1" stroke-linecap="round"/><path d="M304.10,405.10 Q309.10,417.65 304.10,430.20" fill="none" stroke="#c8283a" stroke-width="1.1" stroke-linecap="round"/><path d="M308.00,405.40 Q313.60,417.65 308.00,429.90" fill="none" stroke="#c8283a" stroke-width="1.1" stroke-linecap="round"/><path d="M311.90,405.70 Q318.10,417.65 311.90,429.60" fill="none" stroke="#c8283a" stroke-width="1.1" stroke-linecap="round"/>
<circle cx="322" cy="409" r="0.7" fill="#c42c34"/>
<circle cx="326" cy="417" r="0.7" fill="#c42c34"/>
<circle cx="322" cy="426" r="0.7" fill="#c42c34"/>
<circle cx="318" cy="433" r="0.7" fill="#c42c34"/>
<circle cx="313" cy="404" r="0.7" fill="#c42c34"/>
<circle cx="328" cy="423" r="0.7" fill="#c42c34"/>
<circle cx="284" cy="417" r="15.8" fill="#3d6dcc" stroke="#2a55a8" stroke-width="0.8"/>
<path d="M278.10,415.10 L280.40,411.50 L282.70,415.10 L285.00,411.50 L287.30,415.10" fill="none" stroke="#52b0e0" stroke-width="1.4" opacity="0.75" stroke-linejoin="round"/>
<text x="283.5" y="424.6" textLength="19.2" lengthAdjust="spacingAndGlyphs" style="font-family:'Liberation Mono',monospace;font-size:8.6px;font-weight:bold" fill="#101c44" text-anchor="middle">DAPI</text>
<line x1="311.1" y1="388.0" x2="311.1" y2="392.7" stroke="#a02a2a" stroke-width="4.6" stroke-linecap="round"/>
<line x1="311.1" y1="388.0" x2="311.1" y2="392.7" stroke="#d84a4a" stroke-width="3.6" stroke-linecap="round"/>
<line x1="305.67" y1="388.55" x2="307.67" y2="384.15" stroke="#d83c54" stroke-width="0.9"/><line x1="304.13" y1="387.85" x2="306.13" y2="383.45" stroke="#d83c54" stroke-width="0.9"/><line x1="312.52" y1="383.56" x2="316.52" y2="385.56" stroke="#d83c54" stroke-width="0.9"/><line x1="313.28" y1="382.04" x2="317.28" y2="384.04" stroke="#d83c54" stroke-width="0.9"/><line x1="308.07" y1="375.58" x2="309.67" y2="382.98" stroke="#d83c54" stroke-width="0.9"/><line x1="309.73" y1="375.22" x2="311.33" y2="382.62" stroke="#d83c54" stroke-width="0.9"/>
<g filter="url(#glow)" opacity="0.75" stroke="#ff5a86" stroke-width="4.2" stroke-linecap="round"><line x1="306.9" y1="368.2" x2="310.2" y2="361.5"/><line x1="306.9" y1="368.2" x2="298.9" y2="370.4"/><line x1="306.9" y1="368.2" x2="308.9" y2="375.4"/></g>
<line x1="307.84" y1="368.66" x2="311.14" y2="361.96" stroke="#ec3562" stroke-width="1.5"/><line x1="305.96" y1="367.74" x2="309.26" y2="361.04" stroke="#ec3562" stroke-width="1.5"/><line x1="306.62" y1="367.19" x2="298.62" y2="369.39" stroke="#ec3562" stroke-width="1.5"/><line x1="307.18" y1="369.21" x2="299.18" y2="371.41" stroke="#ec3562" stroke-width="1.5"/><line x1="305.89" y1="368.48" x2="307.89" y2="375.68" stroke="#ec3562" stroke-width="1.5"/><line x1="307.91" y1="367.92" x2="309.91" y2="375.12" stroke="#ec3562" stroke-width="1.5"/>
<text x="309.2" y="403.1" textLength="24.0" lengthAdjust="spacingAndGlyphs" style="font-family:'Liberation Mono',monospace;font-size:8.6px;font-weight:bold" fill="#2a1410" text-anchor="middle">CD138</text>
<text x="358.6" y="360.4" textLength="72.0" lengthAdjust="spacingAndGlyphs" style="font-family:'Liberation Mono',monospace;font-size:8.6px;font-weight:bold" fill="#d8343c" text-anchor="start">Gt-Ms IgG1-A555</text>
<text x="371.8" y="375.1" textLength="62.4" lengthAdjust="spacingAndGlyphs" style="font-family:'Liberation Mono',monospace;font-size:8.6px;font-weight:bold" fill="#d8343c" text-anchor="start">Ms IgG1-CD138</text>
<path d="M356.00,401.80 C357.14,400.87 358.31,399.87 359.27,398.78 C360.24,397.70 360.78,396.26 361.80,395.30 C362.82,394.34 363.97,393.51 365.42,393.03 C366.87,392.54 369.01,392.50 370.50,392.40 C371.99,392.30 373.12,392.53 374.34,392.40 C375.55,392.27 376.39,391.85 377.80,391.60 C379.21,391.35 381.11,390.77 382.81,390.90 C384.51,391.04 386.55,391.91 388.00,392.40 C389.45,392.89 390.30,393.52 391.52,393.87 C392.73,394.22 393.96,394.36 395.30,394.50 C396.64,394.64 398.35,394.35 399.55,394.71 C400.75,395.08 401.58,395.90 402.50,396.70 C403.42,397.50 404.12,398.67 405.10,399.52 C406.08,400.37 407.38,401.00 408.40,401.80 C409.42,402.60 410.62,403.33 411.22,404.29 C411.82,405.26 411.82,406.55 412.00,407.60 C412.18,408.65 412.07,409.63 412.32,410.62 C412.57,411.60 413.06,412.53 413.50,413.50 C413.94,414.47 414.83,415.49 414.95,416.46 C415.07,417.43 414.45,418.36 414.20,419.30 C413.95,420.24 413.54,421.13 413.42,422.09 C413.31,423.06 413.51,424.04 413.50,425.10 C413.49,426.16 413.76,427.51 413.39,428.47 C413.03,429.44 412.19,430.17 411.30,430.90 C410.41,431.63 409.02,432.10 408.05,432.83 C407.09,433.56 406.55,434.50 405.50,435.30 C404.45,436.10 403.22,437.15 401.76,437.63 C400.29,438.12 398.41,438.12 396.70,438.20 C394.99,438.28 393.18,438.01 391.48,438.13 C389.78,438.24 388.20,438.65 386.50,438.90 C384.80,439.15 382.98,439.76 381.30,439.64 C379.61,439.52 378.03,438.69 376.40,438.20 C374.77,437.71 373.23,437.09 371.53,436.72 C369.83,436.36 367.96,436.43 366.20,436.00 C364.44,435.57 362.45,434.99 361.00,434.14 C359.55,433.29 358.51,432.08 357.50,430.90 C356.49,429.72 355.94,428.30 354.96,427.08 C353.97,425.87 352.52,424.88 351.60,423.60 C350.68,422.32 349.81,420.84 349.46,419.39 C349.11,417.94 349.30,416.25 349.50,414.90 C349.70,413.55 350.40,412.51 350.64,411.30 C350.87,410.08 350.61,408.76 350.90,407.60 C351.19,406.44 351.55,405.33 352.40,404.36 C353.25,403.39 354.86,402.73 356.00,401.80 Z" fill="#a27c6a" stroke="#6a4636" stroke-width="0.9"/>
<path d="M381,402 Q394,417 381,432 Q387,417 381,402 Z" fill="#b89484" opacity="0.9"/>
<path d="M385.00,403.00 Q391.00,417.00 385.00,431.00" fill="none" stroke="#6a3e2e" stroke-width="1.1" stroke-linecap="round" stroke-dasharray="2.4 1.4"/><path d="M389.20,403.30 Q396.00,417.00 389.20,430.70" fill="none" stroke="#6a3e2e" stroke-width="1.1" stroke-linecap="round" stroke-dasharray="2.4 1.4"/><path d="M393.40,403.60 Q401.00,417.00 393.40,430.40" fill="none" stroke="#6a3e2e" stroke-width="1.1" stroke-linecap="round" stroke-dasharray="2.4 1.4"/><path d="M397.60,403.90 Q406.00,417.00 397.60,430.10" fill="none" stroke="#6a3e2e" stroke-width="1.1" stroke-linecap="round" stroke-dasharray="2.4 1.4"/>
<path d="M384.50,416.00 C384.50,417.66 385.19,419.50 384.71,420.98 C384.23,422.45 382.59,423.53 381.62,424.88 C380.64,426.22 380.12,428.11 378.86,429.03 C377.61,429.94 375.64,429.85 374.07,430.36 C372.49,430.87 370.96,432.10 369.40,432.10 C367.84,432.10 366.31,430.87 364.73,430.36 C363.16,429.85 361.19,429.94 359.94,429.03 C358.68,428.11 358.16,426.22 357.18,424.88 C356.21,423.53 354.57,422.45 354.09,420.98 C353.61,419.50 354.30,417.66 354.30,416.00 C354.30,414.34 353.61,412.50 354.09,411.02 C354.57,409.55 356.21,408.47 357.18,407.12 C358.16,405.78 358.68,403.89 359.94,402.97 C361.19,402.06 363.16,402.15 364.73,401.64 C366.31,401.13 367.84,399.90 369.40,399.90 C370.96,399.90 372.49,401.13 374.07,401.64 C375.64,402.15 377.61,402.06 378.86,402.97 C380.12,403.89 380.64,405.78 381.62,407.12 C382.59,408.47 384.23,409.55 384.71,411.02 C385.19,412.50 384.50,414.34 384.50,416.00 Z" fill="#3d6dcc" stroke="#2a55a8" stroke-width="0.8"/>
<path d="M362.90,412.70 L365.20,409.10 L367.50,412.70 L369.80,409.10 L372.10,412.70" fill="none" stroke="#52b0e0" stroke-width="1.4" opacity="0.75" stroke-linejoin="round"/>
<text x="368.3" y="422.2" textLength="19.2" lengthAdjust="spacingAndGlyphs" style="font-family:'Liberation Mono',monospace;font-size:8.6px;font-weight:bold" fill="#101c44" text-anchor="middle">DAPI</text>
<line x1="366.8" y1="388.0" x2="366.8" y2="392.9" stroke="#a02a2a" stroke-width="4.6" stroke-linecap="round"/>
<line x1="366.8" y1="388.0" x2="366.8" y2="392.9" stroke="#d84a4a" stroke-width="3.6" stroke-linecap="round"/>
<line x1="360.23" y1="389.17" x2="361.23" y2="384.37" stroke="#d83c54" stroke-width="0.9"/><line x1="358.57" y1="388.83" x2="359.57" y2="384.03" stroke="#d83c54" stroke-width="0.9"/><line x1="364.16" y1="382.62" x2="368.96" y2="384.02" stroke="#d83c54" stroke-width="0.9"/><line x1="364.64" y1="380.98" x2="369.44" y2="382.38" stroke="#d83c54" stroke-width="0.9"/><line x1="360.36" y1="378.56" x2="363.36" y2="381.96" stroke="#d83c54" stroke-width="0.9"/><line x1="361.64" y1="377.44" x2="364.64" y2="380.84" stroke="#d83c54" stroke-width="0.9"/>
<g filter="url(#glow)" opacity="0.75" stroke="#ff5a86" stroke-width="4.2" stroke-linecap="round"><line x1="354.5" y1="370.0" x2="355.2" y2="361.8"/><line x1="354.5" y1="370.0" x2="346.2" y2="373.6"/><line x1="354.5" y1="370.0" x2="361.0" y2="378.0"/></g>
<line x1="355.55" y1="370.09" x2="356.25" y2="361.89" stroke="#ec3562" stroke-width="1.5"/><line x1="353.45" y1="369.91" x2="354.15" y2="361.71" stroke="#ec3562" stroke-width="1.5"/><line x1="354.08" y1="369.04" x2="345.78" y2="372.64" stroke="#ec3562" stroke-width="1.5"/><line x1="354.92" y1="370.96" x2="346.62" y2="374.56" stroke="#ec3562" stroke-width="1.5"/><line x1="353.69" y1="370.66" x2="360.19" y2="378.66" stroke="#ec3562" stroke-width="1.5"/><line x1="355.31" y1="369.34" x2="361.81" y2="377.34" stroke="#ec3562" stroke-width="1.5"/>
<text x="374.2" y="400.5" textLength="24.0" lengthAdjust="spacingAndGlyphs" style="font-family:'Liberation Mono',monospace;font-size:8.6px;font-weight:bold" fill="#2a1410" text-anchor="middle">CD138</text>
<text x="401" y="422.2" textLength="19.2" lengthAdjust="spacingAndGlyphs" style="font-family:'Liberation Mono',monospace;font-size:8.6px;font-weight:bold" fill="#1a1a1a" text-anchor="middle">BCMA</text>
<line x1="413.6" y1="419.5" x2="418.8" y2="419.5" stroke="#4e4e4e" stroke-width="5.4" stroke-linecap="round"/>
<line x1="413.6" y1="419.5" x2="418.8" y2="419.5" stroke="#767676" stroke-width="4.4" stroke-linecap="round"/>
<text x="414.8" y="397" textLength="67.2" lengthAdjust="spacingAndGlyphs" style="font-family:'Liberation Mono',monospace;font-size:8.6px;font-weight:bold" fill="#959595" text-anchor="start">Gt-Rb IgG-A488</text>
<text x="424.2" y="430.2" textLength="52.8" lengthAdjust="spacingAndGlyphs" style="font-family:'Liberation Mono',monospace;font-size:8.6px;font-weight:bold" fill="#959595" text-anchor="start">Rb IgG-BCMA</text>
<line x1="417.60" y1="414.20" x2="423.60" y2="414.20" stroke="#a8a8a8" stroke-width="0.8"/><line x1="417.60" y1="412.60" x2="423.60" y2="412.60" stroke="#a8a8a8" stroke-width="0.8"/><line x1="423.04" y1="423.88" x2="426.84" y2="418.88" stroke="#a8a8a8" stroke-width="0.8"/><line x1="421.76" y1="422.92" x2="425.56" y2="417.92" stroke="#a8a8a8" stroke-width="0.8"/><line x1="425.17" y1="416.31" x2="431.77" y2="412.91" stroke="#a8a8a8" stroke-width="0.8"/><line x1="424.43" y1="414.89" x2="431.03" y2="411.49" stroke="#a8a8a8" stroke-width="0.8"/>
<g filter="url(#glow)" opacity="0.75" stroke="#ffd040" stroke-width="4.2" stroke-linecap="round"><line x1="438.8" y1="407" x2="441.6" y2="400.8"/><line x1="438.8" y1="407" x2="431.4" y2="412"/><line x1="438.8" y1="407" x2="444.2" y2="415"/></g>
<line x1="439.76" y1="407.43" x2="442.56" y2="401.23" stroke="#f4b818" stroke-width="1.5"/><line x1="437.84" y1="406.57" x2="440.64" y2="400.37" stroke="#f4b818" stroke-width="1.5"/><line x1="438.21" y1="406.13" x2="430.81" y2="411.13" stroke="#f4b818" stroke-width="1.5"/><line x1="439.39" y1="407.87" x2="431.99" y2="412.87" stroke="#f4b818" stroke-width="1.5"/><line x1="437.93" y1="407.59" x2="443.33" y2="415.59" stroke="#f4b818" stroke-width="1.5"/><line x1="439.67" y1="406.41" x2="445.07" y2="414.41" stroke="#f4b818" stroke-width="1.5"/>
<text x="462.3" y="365.1" textLength="86.4" lengthAdjust="spacingAndGlyphs" style="font-family:'Liberation Mono',monospace;font-size:8.6px;font-weight:bold" fill="#2a8a5c" text-anchor="start">Ms IgG2a-CD45-A647</text>
<circle cx="507.2" cy="404.4" r="20.4" fill="#6cc862" stroke="#3e9c40" stroke-width="0.9"/>
<circle cx="506.7" cy="407.8" r="11.8" fill="#3d6dcc" stroke="#2a55a8" stroke-width="0.8"/>
<path d="M502.80,404.50 L505.10,400.90 L507.40,404.50 L509.70,400.90 L512.00,404.50" fill="none" stroke="#52b0e0" stroke-width="1.4" opacity="0.75" stroke-linejoin="round"/>
<text x="508.2" y="414" textLength="19.2" lengthAdjust="spacingAndGlyphs" style="font-family:'Liberation Mono',monospace;font-size:8.6px;font-weight:bold" fill="#101c44" text-anchor="middle">DAPI</text>
<line x1="502.3" y1="380" x2="502.3" y2="385.2" stroke="#277a32" stroke-width="4.8" stroke-linecap="round"/>
<line x1="502.3" y1="380" x2="502.3" y2="385.2" stroke="#3e9c4a" stroke-width="3.8" stroke-linecap="round"/>
<g filter="url(#glow)" opacity="0.75" stroke="#70ff70" stroke-width="4.2" stroke-linecap="round"><line x1="500.2" y1="375.2" x2="496.8" y2="367.4"/><line x1="500.2" y1="375.2" x2="496.2" y2="380.6"/><line x1="500.2" y1="375.2" x2="507.6" y2="376.8"/></g>
<line x1="501.16" y1="374.78" x2="497.76" y2="366.98" stroke="#3ef23e" stroke-width="1.5"/><line x1="499.24" y1="375.62" x2="495.84" y2="367.82" stroke="#3ef23e" stroke-width="1.5"/><line x1="499.36" y1="374.58" x2="495.36" y2="379.98" stroke="#3ef23e" stroke-width="1.5"/><line x1="501.04" y1="375.82" x2="497.04" y2="381.22" stroke="#3ef23e" stroke-width="1.5"/><line x1="499.98" y1="376.23" x2="507.38" y2="377.83" stroke="#3ef23e" stroke-width="1.5"/><line x1="500.42" y1="374.17" x2="507.82" y2="375.77" stroke="#3ef23e" stroke-width="1.5"/>
<text x="502.3" y="394.3" textLength="19.2" lengthAdjust="spacingAndGlyphs" style="font-family:'Liberation Mono',monospace;font-size:8.6px;font-weight:bold" fill="#0c1a0c" text-anchor="middle">CD45</text>
<text x="242.9" y="450.3" textLength="72.0" lengthAdjust="spacingAndGlyphs" style="font-family:'Liberation Mono',monospace;font-size:8.6px;font-weight:bold" fill="#d8343c" text-anchor="start">Gt-Ms IgG1-A555</text>
<text x="245.7" y="473.9" textLength="62.4" lengthAdjust="spacingAndGlyphs" style="font-family:'Liberation Mono',monospace;font-size:8.6px;font-weight:bold" fill="#d8343c" text-anchor="start">Ms IgG1-CD138</text>
<ellipse cx="308.4" cy="501.6" rx="31.2" ry="21.8" fill="#f0a072" stroke="#c46434" stroke-width="0.9"/>
<path d="M310.60,492.50 Q315.00,502.50 310.60,512.50" fill="none" stroke="#cc5418" stroke-width="1.0" stroke-linecap="round" stroke-dasharray="3 1.2"/><path d="M313.90,492.80 Q318.90,502.50 313.90,512.20" fill="none" stroke="#cc5418" stroke-width="1.0" stroke-linecap="round" stroke-dasharray="3 1.2"/><path d="M317.20,493.10 Q322.80,502.50 317.20,511.90" fill="none" stroke="#cc5418" stroke-width="1.0" stroke-linecap="round" stroke-dasharray="3 1.2"/><path d="M320.50,493.40 Q326.70,502.50 320.50,511.60" fill="none" stroke="#cc5418" stroke-width="1.0" stroke-linecap="round" stroke-dasharray="3 1.2"/>
<circle cx="330" cy="495" r="0.7" fill="#c85420"/>
<circle cx="333" cy="503" r="0.7" fill="#c85420"/>
<circle cx="329" cy="510" r="0.7" fill="#c85420"/>
<circle cx="325" cy="516" r="0.7" fill="#c85420"/>
<circle cx="294.5" cy="503" r="14.5" fill="#3d6dcc" stroke="#2a55a8" stroke-width="0.8"/>
<path d="M289.40,501.50 L291.70,497.90 L294.00,501.50 L296.30,497.90 L298.60,501.50" fill="none" stroke="#52b0e0" stroke-width="1.4" opacity="0.75" stroke-linejoin="round"/>
<text x="294.8" y="511" textLength="19.2" lengthAdjust="spacingAndGlyphs" style="font-family:'Liberation Mono',monospace;font-size:8.6px;font-weight:bold" fill="#101c44" text-anchor="middle">DAPI</text>
<line x1="322.5" y1="475.20000000000005" x2="322.5" y2="479.90000000000003" stroke="#a02a2a" stroke-width="4.6" stroke-linecap="round"/>
<line x1="322.5" y1="475.20000000000005" x2="322.5" y2="479.90000000000003" stroke="#d84a4a" stroke-width="3.6" stroke-linecap="round"/>
<line x1="316.87" y1="476.57" x2="318.87" y2="472.37" stroke="#d83c54" stroke-width="0.9"/><line x1="315.33" y1="475.83" x2="317.33" y2="471.63" stroke="#d83c54" stroke-width="0.9"/><line x1="323.72" y1="471.16" x2="327.72" y2="473.16" stroke="#d83c54" stroke-width="0.9"/><line x1="324.48" y1="469.64" x2="328.48" y2="471.64" stroke="#d83c54" stroke-width="0.9"/><line x1="319.44" y1="466.98" x2="321.14" y2="470.38" stroke="#d83c54" stroke-width="0.9"/><line x1="320.96" y1="466.22" x2="322.66" y2="469.62" stroke="#d83c54" stroke-width="0.9"/>
<g filter="url(#glow)" opacity="0.75" stroke="#ff5a86" stroke-width="4.2" stroke-linecap="round"><line x1="317.4" y1="456.2" x2="322.1" y2="449.0"/><line x1="317.4" y1="456.2" x2="309.9" y2="457.6"/><line x1="317.4" y1="456.2" x2="320.2" y2="466.6"/></g>
<line x1="318.28" y1="456.77" x2="322.98" y2="449.57" stroke="#ec3562" stroke-width="1.5"/><line x1="316.52" y1="455.63" x2="321.22" y2="448.43" stroke="#ec3562" stroke-width="1.5"/><line x1="317.21" y1="455.17" x2="309.71" y2="456.57" stroke="#ec3562" stroke-width="1.5"/><line x1="317.59" y1="457.23" x2="310.09" y2="458.63" stroke="#ec3562" stroke-width="1.5"/><line x1="316.39" y1="456.47" x2="319.19" y2="466.87" stroke="#ec3562" stroke-width="1.5"/><line x1="318.41" y1="455.93" x2="321.21" y2="466.33" stroke="#ec3562" stroke-width="1.5"/>
<text x="317.6" y="491.4" textLength="24.0" lengthAdjust="spacingAndGlyphs" style="font-family:'Liberation Mono',monospace;font-size:8.6px;font-weight:bold" fill="#2a1410" text-anchor="middle">CD138</text>
<text x="324.6" y="503.6" textLength="19.2" lengthAdjust="spacingAndGlyphs" style="font-family:'Liberation Mono',monospace;font-size:8.6px;font-weight:bold" fill="#1a1a1a" text-anchor="middle">BCMA</text>
<line x1="340.2" y1="500.8" x2="344.4" y2="498.6" stroke="#4e4e4e" stroke-width="5.4" stroke-linecap="round"/>
<line x1="340.2" y1="500.8" x2="344.4" y2="498.6" stroke="#767676" stroke-width="4.4" stroke-linecap="round"/>
<text x="337.3" y="476.3" textLength="67.2" lengthAdjust="spacingAndGlyphs" style="font-family:'Liberation Mono',monospace;font-size:8.6px;font-weight:bold" fill="#959595" text-anchor="start">Gt-Rb IgG-A488</text>
<text x="349.1" y="512" textLength="52.8" lengthAdjust="spacingAndGlyphs" style="font-family:'Liberation Mono',monospace;font-size:8.6px;font-weight:bold" fill="#959595" text-anchor="start">Rb IgG-BCMA</text>
<line x1="341.80" y1="494.00" x2="348.00" y2="494.00" stroke="#a8a8a8" stroke-width="0.8"/><line x1="341.80" y1="492.40" x2="348.00" y2="492.40" stroke="#a8a8a8" stroke-width="0.8"/><line x1="349.06" y1="503.45" x2="352.46" y2="498.45" stroke="#a8a8a8" stroke-width="0.8"/><line x1="347.74" y1="502.55" x2="351.14" y2="497.55" stroke="#a8a8a8" stroke-width="0.8"/><line x1="349.84" y1="497.07" x2="355.84" y2="493.07" stroke="#a8a8a8" stroke-width="0.8"/><line x1="348.96" y1="495.73" x2="354.96" y2="491.73" stroke="#a8a8a8" stroke-width="0.8"/>
<g filter="url(#glow)" opacity="0.75" stroke="#ffd040" stroke-width="4.2" stroke-linecap="round"><line x1="361.8" y1="487.8" x2="364.6" y2="480.6"/><line x1="361.8" y1="487.8" x2="355.4" y2="492.3"/><line x1="361.8" y1="487.8" x2="368.2" y2="494.2"/></g>
<line x1="362.78" y1="488.18" x2="365.58" y2="480.98" stroke="#f4b818" stroke-width="1.5"/><line x1="360.82" y1="487.42" x2="363.62" y2="480.22" stroke="#f4b818" stroke-width="1.5"/><line x1="361.20" y1="486.94" x2="354.80" y2="491.44" stroke="#f4b818" stroke-width="1.5"/><line x1="362.40" y1="488.66" x2="356.00" y2="493.16" stroke="#f4b818" stroke-width="1.5"/><line x1="361.06" y1="488.54" x2="367.46" y2="494.94" stroke="#f4b818" stroke-width="1.5"/><line x1="362.54" y1="487.06" x2="368.94" y2="493.46" stroke="#f4b818" stroke-width="1.5"/>
<text x="471.8" y="446.6" textLength="67.2" lengthAdjust="spacingAndGlyphs" style="font-family:'Liberation Mono',monospace;font-size:8.6px;font-weight:bold" fill="#959595" text-anchor="start">Gt-Rb IgG-A488</text>
<text x="483.6" y="481.5" textLength="52.8" lengthAdjust="spacingAndGlyphs" style="font-family:'Liberation Mono',monospace;font-size:8.6px;font-weight:bold" fill="#959595" text-anchor="start">Rb IgG-BCMA</text>
<circle cx="459.5" cy="487.3" r="20.6" fill="#c8c8c8" stroke="#8e8e8e" stroke-width="0.9"/>
<circle cx="458.8" cy="489.5" r="11.8" fill="#3d6dcc" stroke="#2a55a8" stroke-width="0.8"/>
<path d="M455.80,486.90 L458.10,483.30 L460.40,486.90 L462.70,483.30 L465.00,486.90" fill="none" stroke="#52b0e0" stroke-width="1.4" opacity="0.75" stroke-linejoin="round"/>
<text x="461.2" y="496.4" textLength="19.2" lengthAdjust="spacingAndGlyphs" style="font-family:'Liberation Mono',monospace;font-size:8.6px;font-weight:bold" fill="#101c44" text-anchor="middle">DAPI</text>
<line x1="473" y1="473.4" x2="477.6" y2="469" stroke="#464646" stroke-width="5.4" stroke-linecap="round"/>
<line x1="473" y1="473.4" x2="477.6" y2="469" stroke="#6e6e6e" stroke-width="4.4" stroke-linecap="round"/>
<text x="459" y="474.6" textLength="19.2" lengthAdjust="spacingAndGlyphs" style="font-family:'Liberation Mono',monospace;font-size:8.6px;font-weight:bold" fill="#141414" text-anchor="middle">BCMA</text>
<line x1="476.40" y1="464.40" x2="482.60" y2="464.40" stroke="#a8a8a8" stroke-width="0.8"/><line x1="476.40" y1="462.80" x2="482.60" y2="462.80" stroke="#a8a8a8" stroke-width="0.8"/><line x1="483.30" y1="473.79" x2="486.30" y2="468.39" stroke="#a8a8a8" stroke-width="0.8"/><line x1="481.90" y1="473.01" x2="484.90" y2="467.61" stroke="#a8a8a8" stroke-width="0.8"/><line x1="484.81" y1="467.12" x2="487.21" y2="464.32" stroke="#a8a8a8" stroke-width="0.8"/><line x1="483.59" y1="466.08" x2="485.99" y2="463.28" stroke="#a8a8a8" stroke-width="0.8"/>
<g filter="url(#glow)" opacity="0.75" stroke="#ffd040" stroke-width="4.2" stroke-linecap="round"><line x1="495.4" y1="458.4" x2="499.8" y2="451.2"/><line x1="495.4" y1="458.4" x2="486.6" y2="463.4"/><line x1="495.4" y1="458.4" x2="503.4" y2="466"/></g>
<line x1="496.30" y1="458.95" x2="500.70" y2="451.75" stroke="#f4b818" stroke-width="1.5"/><line x1="494.50" y1="457.85" x2="498.90" y2="450.65" stroke="#f4b818" stroke-width="1.5"/><line x1="494.88" y1="457.49" x2="486.08" y2="462.49" stroke="#f4b818" stroke-width="1.5"/><line x1="495.92" y1="459.31" x2="487.12" y2="464.31" stroke="#f4b818" stroke-width="1.5"/><line x1="494.68" y1="459.16" x2="502.68" y2="466.76" stroke="#f4b818" stroke-width="1.5"/><line x1="496.12" y1="457.64" x2="504.12" y2="465.24" stroke="#f4b818" stroke-width="1.5"/>
</svg>
</body></html>
